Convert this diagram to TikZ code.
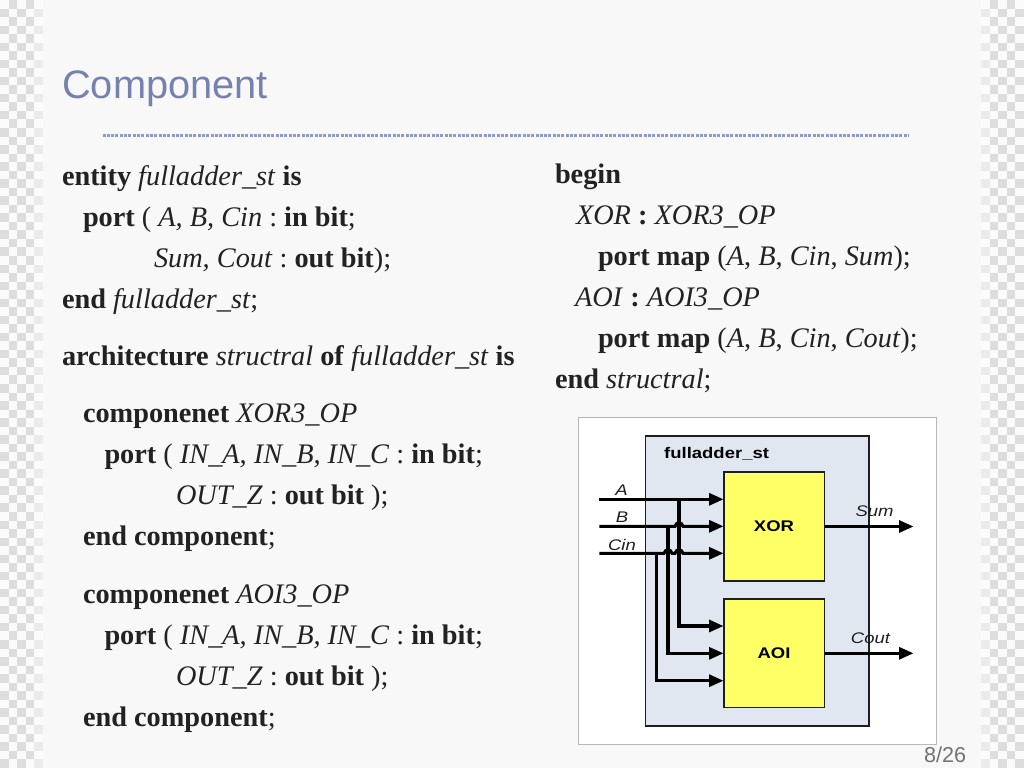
\documentclass[tikz,border=0pt]{standalone}
\usepackage{fontspec}
\setmainfont{Liberation Serif}
\newfontfamily\sansf{Liberation Sans}
\usetikzlibrary{arrows.meta}
\definecolor{panelbg}{HTML}{F8F8F8}
\definecolor{outerbg}{HTML}{FBFBFB}
\definecolor{chk}{HTML}{DDDDDD}
\definecolor{chklight}{HTML}{EBEBEB}
\definecolor{titleblue}{HTML}{7682AE}
\definecolor{dotblue}{HTML}{8E9AC4}
\definecolor{bodyc}{HTML}{222222}
\definecolor{boxblue}{HTML}{E0E7F1}
\definecolor{boxyellow}{HTML}{FFFF66}
\definecolor{linec}{HTML}{1E1E1E}
\newcommand{\wideT}[1]{\scalebox{1.2}[1]{#1}}
\tikzset{
  x=1pt,y=-1pt,
  code/.style={anchor=base west,inner sep=0pt,outer sep=0pt,text=bodyc,font=\fontsize{28.3pt}{34pt}\selectfont},
  block/.style={draw=linec,fill=boxyellow,line width=1.6pt,inner sep=0pt,font=\sansf\bfseries\fontsize{15.4pt}{18pt}\selectfont},
  wire/.style={draw=black,line width=3.1pt,-{Triangle[length=14.5pt,width=12pt]}},
  wirelab/.style={anchor=base,inner sep=0pt,font=\sansf\itshape\fontsize{15.4pt}{18pt}\selectfont,text=linec},
}
\begin{document}
\begin{tikzpicture}
\useasboundingbox (0,0) rectangle (1024,768);
\fill[outerbg] (0,0) rectangle (1024,768);
% checker borders
\foreach \i in {0,...,4}{\foreach \j in {0,...,89}{
  \pgfmathtruncatemacro{\odd}{mod(\i+\j,2)}
  \ifnum\odd=1
    \ifnum\i=4 \fill[chklight] (\i*8.533,\j*8.533) rectangle ++(8.533,8.533);
    \else \fill[chk] (\i*8.533,\j*8.533) rectangle ++(8.533,8.533);\fi
  \fi}}
\foreach \i in {115,...,119}{\foreach \j in {0,...,89}{
  \pgfmathtruncatemacro{\odd}{mod(\i+\j,2)}
  \ifnum\odd=0
    \ifnum\i=115 \fill[chklight] (\i*8.533,\j*8.533) rectangle ++(8.533,8.533);
    \else \fill[chk] (\i*8.533,\j*8.533) rectangle ++(8.533,8.533);\fi
  \fi}}
\fill[panelbg] (43,0) rectangle (981,768);
% title
\node[anchor=base west,inner sep=0pt,text=titleblue,font=\sansf\fontsize{39.8pt}{46pt}\selectfont] (title) at (62,98) {Component};
\coordinate (ruleL) at (102.5,135);
\coordinate (ruleR) at (909,135);
\draw[dotblue,line width=3pt,dash pattern=on 3pt off 1.33pt] (ruleL) -- (ruleR);
% left column
\node[code] (l1) at (62,185.8) {\textbf{entity} \textit{fulladder\_st} \textbf{is}};
\node[code] (l2) at (83,226.3) {\textbf{port} ( \textit{A, B, Cin} :\ \textbf{in bit};};
\node[code] (l3) at (154,267.2) {\textit{Sum, Cout} :\ \textbf{out bit});};
\node[code] (l4) at (62,308.2) {\textbf{end} \textit{fulladder\_st};};
\node[code] (l5) at (62,365.8) {\textbf{architecture} \textit{structral} \textbf{of} \textit{fulladder\_st} \textbf{is}};
\node[code] (l6) at (83,422.8) {\textbf{componenet} \textit{XOR3\_OP}};
\node[code] (l7) at (104.5,463.8) {\textbf{port} ( \textit{IN\_A, IN\_B, IN\_C} :\ \textbf{in bit};};
\node[code] (l8) at (176,504.8) {\textit{OUT\_Z} :\ \textbf{out bit} );};
\node[code] (l9) at (83,545.8) {\textbf{end component};};
\node[code] (l10) at (83,603.3) {\textbf{componenet} \textit{AOI3\_OP}};
\node[code] (l11) at (104.5,644.3) {\textbf{port} ( \textit{IN\_A, IN\_B, IN\_C} :\ \textbf{in bit};};
\node[code] (l12) at (176,685.3) {\textit{OUT\_Z} :\ \textbf{out bit} );};
\node[code] (l13) at (83,726.3) {\textbf{end component};};
% right column
\node[code] (r1) at (555,183.8) {\textbf{begin}};
\node[code] (r2) at (576,224.8) {\textit{XOR} \textbf{:} \textit{XOR3\_OP}};
\node[code] (r3) at (598,265.8) {\textbf{port map} (\textit{A}, \textit{B}, \textit{Cin}, \textit{Sum});};
\node[code] (r4) at (575,306.8) {\textit{AOI} \textbf{:} \textit{AOI3\_OP}};
\node[code] (r5) at (598,347.8) {\textbf{port map} (\textit{A}, \textit{B}, \textit{Cin}, \textit{Cout});};
\node[code] (r6) at (555,388.8) {\textbf{end} \textit{structral};};
% figure
\fill[white,draw=black!28,line width=0.9pt] (578.3,417.5) rectangle (936.3,744);
\node[draw=linec,fill=boxblue,line width=1.6pt,minimum width=223.3pt,minimum height=290pt,inner sep=0pt] (ent) at (757.3,580.7) {};
\node[anchor=base west,inner sep=0pt,font=\sansf\bfseries\fontsize{15.4pt}{18pt}\selectfont,text=black] (entlab) at (664,458.5) {\wideT{fulladder\_st}};
\node[block,minimum width=100.6pt,minimum height=109pt] (xor) at (774,526.5) {\wideT{XOR}};
\node[block,minimum width=100.6pt,minimum height=108.7pt] (aoi) at (774,653.3) {\wideT{AOI}};
% wire coordinates
\coordinate (inA) at (599.3,499.3);
\coordinate (inB) at (599.3,526.3);
\coordinate (inC) at (599.3,553.3);
\coordinate (xorA) at (723.5,499.3);
\coordinate (xorB) at (723.5,526.3);
\coordinate (xorC) at (723.5,553.3);
\coordinate (aoiA) at (723.5,626);
\coordinate (aoiB) at (723.5,653.3);
\coordinate (aoiC) at (723.5,680.7);
\coordinate (jA) at (679,499.3);
\coordinate (jB) at (668,526.3);
\coordinate (jC) at (656.7,553.3);
\coordinate (cornerA) at (679,626);
\coordinate (cornerB) at (668,653.3);
\coordinate (cornerC) at (656.7,680.7);
\coordinate (outS) at (913.5,526.5);
\coordinate (outC) at (913.5,653.3);
% wires
\draw[wire] (inA) -- (xorA);
\draw[wire] (inB) -- (675,526.3) .. controls (676.5,521.5) and (681.5,521.5) .. (683,526.3) -- (xorB);
\draw[wire] (inC) -- (664,553.3) .. controls (665.5,548.5) and (670.5,548.5) .. (672,553.3) -- (675,553.3) .. controls (676.5,548.5) and (681.5,548.5) .. (683,553.3) -- (xorC);
\draw[wire] (jA) -- (cornerA) -- (aoiA);
\draw[wire] (jB) -- (cornerB) -- (aoiB);
\draw[wire] (jC) -- (cornerC) -- (aoiC);
\draw[wire] (xor.east |- outS) -- (outS);
\draw[wire] (aoi.east |- outC) -- (outC);
% wire labels
\node[wirelab] (la) at (621.5,495.7) {\wideT{A}};
\node[wirelab] (lb) at (622,522.7) {\wideT{B}};
\node[wirelab] (lc) at (622,550.7) {\wideT{Cin}};
\node[wirelab] (ls) at (874.5,516.5) {\wideT{Sum}};
\node[wirelab] (lo) at (870.5,643.5) {\wideT{Cout}};
% page number
\node[anchor=base west,inner sep=0pt,text=black!55,font=\sansf\fontsize{21.6pt}{26pt}\selectfont] (pg) at (924,762.7) {8/26};
\end{tikzpicture}
\end{document}
